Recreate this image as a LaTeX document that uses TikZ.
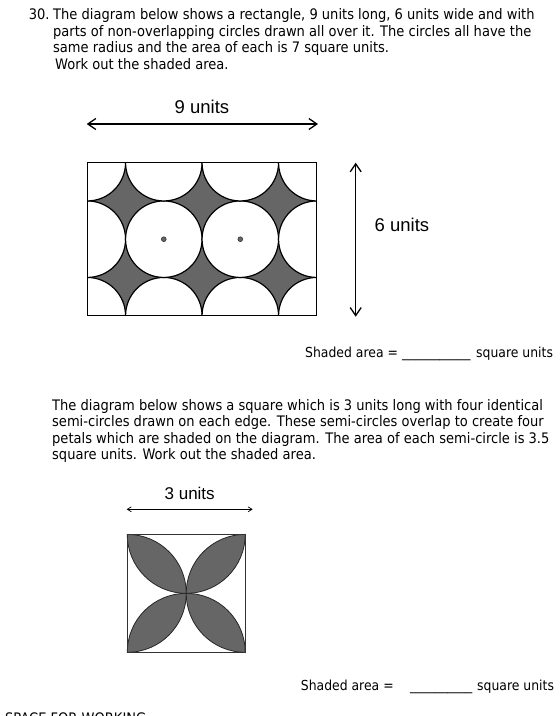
\documentclass[tikz,border=0pt]{standalone}
\usepackage{fontspec}
\setmainfont{DejaVu Sans}[FakeStretch=0.9]
\newfontfamily\labfont{Liberation Sans}
\usetikzlibrary{arrows.meta}
\definecolor{shadegray}{RGB}{102,102,102}
\tikzset{
  body/.style={anchor=base west, inner sep=0pt, font=\fontsize{14.5}{16}\selectfont},
  answer/.style={anchor=base west, inner sep=0pt, font=\fontsize{13.8}{16}\selectfont},
  lab/.style={anchor=base, inner sep=0pt, font=\labfont\fontsize{18.5}{20}\selectfont},
  labsmall/.style={anchor=base, inner sep=0pt, font=\labfont\fontsize{17}{19}\selectfont},
  dimbig/.style={line width=1.3pt, {Straight Barb[length=8pt,width=11pt]}-{Straight Barb[length=8pt,width=11pt]}},
  dimsmall/.style={line width=0.7pt, {Straight Barb[length=4pt,width=5pt]}-{Straight Barb[length=4pt,width=5pt]}},
  circline/.style={line width=1.2pt, draw=black},
  petal/.style={fill=shadegray, draw=black!85, line width=0.8pt},
  dotmark/.style={fill=shadegray, draw=black!80, line width=0.6pt}
}
\begin{document}
\begin{tikzpicture}[x=1pt,y=-1pt]
\useasboundingbox[fill=white] (0,0) rectangle (560,716);

% ---- paragraph 1
\node[body] (n30) at (28.6,19.5) {30.};
\node[body] (p1a) at (53,19.5) {The diagram below shows a rectangle, 9 units long, 6 units wide and with};
\node[body] (p1b) at (53,36) {parts of non-overlapping circles drawn all over it. The circles all have the};
\node[body] (p1c) at (53,52.5) {same radius and the area of each is 7 square units.};
\node[body] (p1d) at (55,69) {Work out the shaded area.};

% ---- 9 units dimension
\node[lab] (l9) at (202,113.5) {9 units};
\coordinate (a9l) at (86.7,124);
\coordinate (a9r) at (318,124);
\draw[dimbig] (a9l) -- (a9r);

% ---- rectangle with circles
\begin{scope}[shift={(87.3,315.7)}, x=25.5pt, y=25.5pt]
  \fill[shadegray] (0,0) rectangle (9,6);
  \begin{scope}
    \clip (0,0) rectangle (9,6);
    \foreach \i in {0,3,6,9} {
      \foreach \j in {0,3,6} {
        \filldraw[fill=white, circline] (\i,\j) circle (1.5);
      }
    }
  \end{scope}
  \draw[line width=1.2pt] (0,0) rectangle (9,6);
  \filldraw[dotmark] (3,3) circle (2.4pt);
  \filldraw[dotmark] (6,3) circle (2.4pt);
\end{scope}

% ---- 6 units dimension
\coordinate (a6t) at (355.7,162.7);
\coordinate (a6b) at (355.7,316.7);
\draw[dimbig] (a6t) -- (a6b);
\node[lab] (l6) at (402,231) {6 units};

% ---- answer line 1
\node[answer] (sa1) at (305,357.5) {Shaded area =};
\node[answer] (u1) at (402,357.5) {\_\_\_\_\_\_\_\_\_\_\_};
\node[answer] (sq1) at (476,357.5) {square units};

% ---- paragraph 2
\node[body] (p2a) at (52,410) {The diagram below shows a square which is 3 units long with four identical};
\node[body] (p2b) at (52,426.5) {semi-circles drawn on each edge. These semi-circles overlap to create four};
\node[body] (p2c) at (52,443) {petals which are shaded on the diagram. The area of each semi-circle is 3.5};
\node[body] (p2d) at (52,459.5) {square units. Work out the shaded area.};

% ---- 3 units dimension
\node[labsmall] (l3) at (189.7,499.5) {3 units};
\coordinate (a3l) at (126.7,509.3);
\coordinate (a3r) at (252.7,509.3);
\draw[dimsmall] (a3l) -- (a3r);

% ---- square with petals
\begin{scope}[shift={(127.3,652.3)}, x=39.3pt, y=39.3pt]
  \draw[petal] (0,0) arc[start angle=180, end angle=90, radius=1.5]
                     arc[start angle=0, end angle=-90, radius=1.5] -- cycle;
  \draw[petal] (3,0) arc[start angle=0, end angle=90, radius=1.5]
                     arc[start angle=180, end angle=270, radius=1.5] -- cycle;
  \draw[petal] (0,3) arc[start angle=180, end angle=270, radius=1.5]
                     arc[start angle=0, end angle=90, radius=1.5] -- cycle;
  \draw[petal] (3,3) arc[start angle=0, end angle=-90, radius=1.5]
                     arc[start angle=180, end angle=90, radius=1.5] -- cycle;
  \draw[line width=0.8pt, draw=black!80] (0,0) rectangle (3,3);
\end{scope}

% ---- answer line 2
\node[answer] (sa2) at (300.7,690.5) {Shaded area =};
\node[answer] (u2) at (410,690.5) {\_\_\_\_\_\_\_\_\_\_};
\node[answer] (sq2) at (477,690.5) {square units};

% ---- cut-off footer
\node[body] (foot) at (5,723) {SPACE FOR WORKING};
\end{tikzpicture}
\end{document}
